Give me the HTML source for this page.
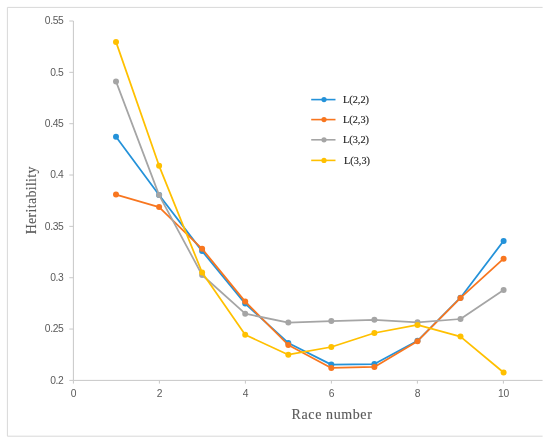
<!DOCTYPE html>
<html><head><meta charset="utf-8"><title>Heritability by race number</title>
<style>
html,body{margin:0;padding:0;background:#fff;}
body{width:550px;height:444px;overflow:hidden;}
svg{display:block;}
.tick{font-family:"Liberation Sans",sans-serif;font-size:10.3px;letter-spacing:-0.4px;fill:#5a5a5a;}
.ttl{font-family:"Liberation Serif",serif;font-size:14px;fill:#5a5a5a;stroke:#5a5a5a;stroke-width:0.12px;}
.leg{font-family:"Liberation Serif",serif;font-size:10.3px;fill:#222;stroke:#222;stroke-width:0.15px;}
</style></head><body>
<svg width="550" height="444" viewBox="0 0 550 444">
<rect width="550" height="444" fill="#fff"/>

<path d="M542.6 7.4H7.4V436.2H542.6" fill="none" stroke="#D8D8D8" stroke-width="1"/>
<path d="M73.4 21V380.4H542.6" fill="none" stroke="#C8C8C8" stroke-width="1"/>
<path d="M69.3 21.00H73.4M69.3 72.34H73.4M69.3 123.69H73.4M69.3 175.03H73.4M69.3 226.37H73.4M69.3 277.72H73.4M69.3 329.06H73.4M69.3 380.40H73.4M73.40 380.4V383.6M159.40 380.4V383.6M245.40 380.4V383.6M331.40 380.4V383.6M417.40 380.4V383.6M503.40 380.4V383.6" fill="none" stroke="#C8C8C8" stroke-width="1"/>
<text class="tick" x="63.3" y="24.30" text-anchor="end">0.55</text>
<text class="tick" x="63.3" y="75.64" text-anchor="end">0.5</text>
<text class="tick" x="63.3" y="126.99" text-anchor="end">0.45</text>
<text class="tick" x="63.3" y="178.33" text-anchor="end">0.4</text>
<text class="tick" x="63.3" y="229.67" text-anchor="end">0.35</text>
<text class="tick" x="63.3" y="281.02" text-anchor="end">0.3</text>
<text class="tick" x="63.3" y="332.36" text-anchor="end">0.25</text>
<text class="tick" x="63.3" y="383.70" text-anchor="end">0.2</text>
<text class="tick" x="73.40" y="396.6" text-anchor="middle">0</text>
<text class="tick" x="159.40" y="396.6" text-anchor="middle">2</text>
<text class="tick" x="245.40" y="396.6" text-anchor="middle">4</text>
<text class="tick" x="331.40" y="396.6" text-anchor="middle">6</text>
<text class="tick" x="417.40" y="396.6" text-anchor="middle">8</text>
<text class="tick" x="503.40" y="396.6" text-anchor="middle">10</text>
<polyline points="116.0,136.8 159.1,195.1 202.1,251.1 245.2,303.6 288.3,343.0 331.3,364.6 374.4,364.1 417.5,340.8 460.5,297.7 503.6,240.9" fill="none" stroke="#2492D9" stroke-width="1.75" stroke-linejoin="round" stroke-linecap="round"/>
<circle cx="116.0" cy="136.8" r="3" fill="#2492D9"/>
<circle cx="159.1" cy="195.1" r="3" fill="#2492D9"/>
<circle cx="202.1" cy="251.1" r="3" fill="#2492D9"/>
<circle cx="245.2" cy="303.6" r="3" fill="#2492D9"/>
<circle cx="288.3" cy="343.0" r="3" fill="#2492D9"/>
<circle cx="331.3" cy="364.6" r="3" fill="#2492D9"/>
<circle cx="374.4" cy="364.1" r="3" fill="#2492D9"/>
<circle cx="417.5" cy="340.8" r="3" fill="#2492D9"/>
<circle cx="460.5" cy="297.7" r="3" fill="#2492D9"/>
<circle cx="503.6" cy="240.9" r="3" fill="#2492D9"/>
<polyline points="116.0,194.6 159.1,207.1 202.1,248.8 245.2,301.6 288.3,345.0 331.3,367.9 374.4,366.9 417.5,341.2 460.5,297.9 503.6,258.7" fill="none" stroke="#F8761F" stroke-width="1.75" stroke-linejoin="round" stroke-linecap="round"/>
<circle cx="116.0" cy="194.6" r="3" fill="#F8761F"/>
<circle cx="159.1" cy="207.1" r="3" fill="#F8761F"/>
<circle cx="202.1" cy="248.8" r="3" fill="#F8761F"/>
<circle cx="245.2" cy="301.6" r="3" fill="#F8761F"/>
<circle cx="288.3" cy="345.0" r="3" fill="#F8761F"/>
<circle cx="331.3" cy="367.9" r="3" fill="#F8761F"/>
<circle cx="374.4" cy="366.9" r="3" fill="#F8761F"/>
<circle cx="417.5" cy="341.2" r="3" fill="#F8761F"/>
<circle cx="460.5" cy="297.9" r="3" fill="#F8761F"/>
<circle cx="503.6" cy="258.7" r="3" fill="#F8761F"/>
<polyline points="116.0,81.4 159.1,195.1 202.1,275.0 245.2,313.7 288.3,322.6 331.3,321.1 374.4,319.8 417.5,322.3 460.5,319.0 503.6,290.0" fill="none" stroke="#A5A5A5" stroke-width="1.75" stroke-linejoin="round" stroke-linecap="round"/>
<circle cx="116.0" cy="81.4" r="3" fill="#A5A5A5"/>
<circle cx="159.1" cy="195.1" r="3" fill="#A5A5A5"/>
<circle cx="202.1" cy="275.0" r="3" fill="#A5A5A5"/>
<circle cx="245.2" cy="313.7" r="3" fill="#A5A5A5"/>
<circle cx="288.3" cy="322.6" r="3" fill="#A5A5A5"/>
<circle cx="331.3" cy="321.1" r="3" fill="#A5A5A5"/>
<circle cx="374.4" cy="319.8" r="3" fill="#A5A5A5"/>
<circle cx="417.5" cy="322.3" r="3" fill="#A5A5A5"/>
<circle cx="460.5" cy="319.0" r="3" fill="#A5A5A5"/>
<circle cx="503.6" cy="290.0" r="3" fill="#A5A5A5"/>
<polyline points="116.0,41.9 159.1,165.8 202.1,272.5 245.2,334.8 288.3,354.7 331.3,347.0 374.4,333.0 417.5,324.9 460.5,336.6 503.6,372.5" fill="none" stroke="#FFC000" stroke-width="1.75" stroke-linejoin="round" stroke-linecap="round"/>
<circle cx="116.0" cy="41.9" r="3" fill="#FFC000"/>
<circle cx="159.1" cy="165.8" r="3" fill="#FFC000"/>
<circle cx="202.1" cy="272.5" r="3" fill="#FFC000"/>
<circle cx="245.2" cy="334.8" r="3" fill="#FFC000"/>
<circle cx="288.3" cy="354.7" r="3" fill="#FFC000"/>
<circle cx="331.3" cy="347.0" r="3" fill="#FFC000"/>
<circle cx="374.4" cy="333.0" r="3" fill="#FFC000"/>
<circle cx="417.5" cy="324.9" r="3" fill="#FFC000"/>
<circle cx="460.5" cy="336.6" r="3" fill="#FFC000"/>
<circle cx="503.6" cy="372.5" r="3" fill="#FFC000"/>
<path d="M311.2 99.6H335.5" stroke="#2492D9" stroke-width="1.6"/>
<circle cx="324" cy="99.6" r="2.6" fill="#2492D9"/>
<text class="leg" x="343" y="103.2">L(2,2)</text>
<path d="M311.2 119.6H335.5" stroke="#F8761F" stroke-width="1.6"/>
<circle cx="324" cy="119.6" r="2.6" fill="#F8761F"/>
<text class="leg" x="343" y="123.2">L(2,3)</text>
<path d="M311.2 139.8H335.5" stroke="#A5A5A5" stroke-width="1.6"/>
<circle cx="324" cy="139.8" r="2.6" fill="#A5A5A5"/>
<text class="leg" x="343" y="143.4">L(3,2)</text>
<path d="M311.2 160.4H335.5" stroke="#FFC000" stroke-width="1.6"/>
<circle cx="324" cy="160.4" r="2.6" fill="#FFC000"/>
<text class="leg" x="344" y="164.0">L(3,3)</text>
<text class="ttl" x="332" y="419.3" text-anchor="middle" letter-spacing="0.6">Race number</text>
<text class="ttl" transform="translate(36.1,200.3) rotate(-90)" text-anchor="middle" letter-spacing="0.3">Heritability</text>
</svg></body></html>
